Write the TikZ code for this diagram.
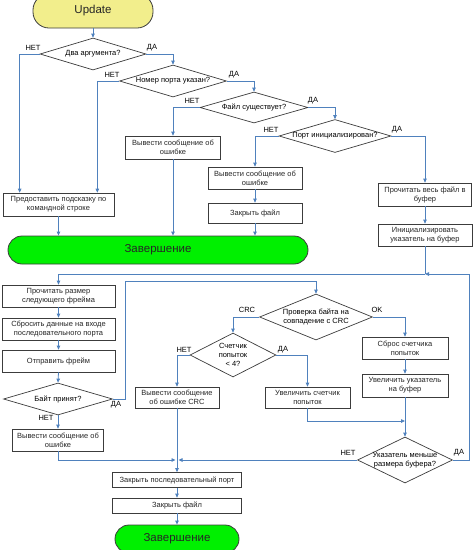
\documentclass[tikz,border=0pt]{standalone}
\usepackage{fontspec}
\setmainfont{Liberation Sans}
\usetikzlibrary{shapes.geometric,arrows.meta}
\definecolor{arrblue}{RGB}{79,129,189}
\definecolor{bord}{RGB}{60,60,60}
\definecolor{updfill}{RGB}{242,238,140}
\definecolor{endfill}{RGB}{0,240,0}
\begin{document}
\begin{tikzpicture}[x=1pt,y=-1pt,
  every node/.style={font=\fontsize{7.5}{9}\selectfont, text=black!85},
  sz/.style 2 args={minimum width=#1pt, minimum height=#2pt},
  box/.style={draw=bord, fill=white, line width=0.7pt, inner sep=1pt, align=center},
  dia/.style={diamond, draw=bord, fill=white, line width=0.7pt, inner sep=0pt},
  term/.style={draw=bord, line width=0.8pt, font=\fontsize{11.5}{13}\selectfont},
  conn/.style={draw=arrblue, line width=0.8pt},
  flow/.style={conn, -{Triangle[length=4pt,width=3.5pt]}},
  lbl/.style={inner sep=0pt, text=black}
]
\useasboundingbox (0,0) rectangle (474,550);
\clip (0,0) rectangle (474,550);

% terminals
\node[term, fill=updfill, rounded corners=16pt, sz={120}{34}] (upd) at (93,11) {\raisebox{-2pt}{Update}};
\node[term, fill=endfill, rounded corners=14pt, sz={300}{28}] (end1) at (158,250) {Завершение};
\node[term, fill=endfill, rounded corners=14pt, sz={124}{28}] (end2) at (177,539) {Завершение};

% decisions
\node[dia, sz={106}{32}, label={[lbl]center:Два аргумента?}] (d1) at (93,54) {};
\node[dia, sz={107}{32}, label={[lbl]center:Номер порта указан?}] (d2) at (173,81) {};
\node[dia, sz={108}{31}, label={[lbl]center:Файл существует?}] (d3) at (254,107.5) {};
\node[dia, sz={112}{33}, label={[lbl]center:Порт инициализирован?}] (d4) at (335,136) {};
\node[dia, sz={109}{32}, label={[lbl]center:Байт принят?}] (dJ) at (58,399) {};
\node[dia, sz={113}{46}, label={[lbl,align=center]center:{Проверка байта на\\совпадение с CRC}}] (dK) at (316,317) {};
\node[dia, sz={86}{44}, label={[lbl,align=center]center:{Счетчик\\попыток\\< 4?}}] (dL) at (233,355) {};
\node[dia, sz={95}{46}, label={[lbl,align=center]center:{Указатель меньше\\размера буфера?}}] (dO) at (405,460) {};

% processes
\node[box, sz={95}{23}] (bA) at (173,147.5) {Вывести сообщение об\\ошибке};
\node[box, sz={111}{23}] (bB) at (58.5,204.5) {Предоставить подсказку по\\командной строке};
\node[box, sz={94}{22}] (bC) at (255,178) {Вывести сообщение об\\ошибке};
\node[box, sz={94}{20}] (bD) at (255,213) {Закрыть файл};
\node[box, sz={93}{23}] (bE) at (425,194.5) {Прочитать весь файл в\\буфер};
\node[box, sz={94}{22}] (bF) at (425,235) {Инициализировать\\указатель на буфер};
\node[box, sz={113}{22}] (bG) at (58.5,296) {Прочитать размер\\следующего фрейма};
\node[box, sz={113}{22}] (bH) at (58.5,329) {Сбросить данные на входе\\последовательного порта};
\node[box, sz={113}{22}] (bI) at (58.5,361) {Отправить фрейм};
\node[box, sz={91}{22}] (bR) at (58,440) {Вывести сообщение об\\ошибке};
\node[box, sz={86}{22}] (bM) at (405,348) {Сброс счетчика\\попыток};
\node[box, sz={86}{23}] (bN) at (405,385.5) {Увеличить указатель\\на буфер};
\node[box, sz={84}{21}] (bP) at (177,397.5) {Вывести сообщение\\об ошибке CRC};
\node[box, sz={85}{21}] (bQ) at (307.5,397.5) {Увеличить счетчик\\попыток};
\node[box, sz={129}{15}] (bS) at (177,480) {Закрыть последовательный порт};
\node[box, sz={129}{15}] (bT) at (177,505.5) {Закрыть файл};

% branch labels
\node[lbl] (l1n) at (33,48) {НЕТ};
\node[lbl] (l1y) at (152,48) {ДА};
\node[lbl] (l2n) at (112,75) {НЕТ};
\node[lbl] (l2y) at (234,75) {ДА};
\node[lbl] (l3n) at (192,101) {НЕТ};
\node[lbl] (l3y) at (313,101) {ДА};
\node[lbl] (l4n) at (271,130) {НЕТ};
\node[lbl] (l4y) at (397,130) {ДА};
\node[lbl] (lJy) at (116,405) {ДА};
\node[lbl] (lJn) at (46,418) {НЕТ};
\node[lbl] (lKc) at (247,310) {CRC};
\node[lbl] (lKo) at (377,310) {OK};
\node[lbl] (lLn) at (184,350) {НЕТ};
\node[lbl] (lLy) at (283,350) {ДА};
\node[lbl] (lOn) at (348,453) {НЕТ};
\node[lbl] (lOy) at (459,453) {ДА};

% helper points
\coordinate (j1) at (425,274);
\coordinate (rr) at (469,274);
\coordinate (c1) at (125,281);
\coordinate (j2) at (177,460);
\coordinate (j3) at (405,421);

% connectors
\draw[flow] (upd.south) -- (d1.north);
\draw[flow] (d1.west) -| ([xshift=17pt]bB.north west);
\draw[flow] (d2.west) -| ([xshift=-17pt]bB.north east);
\draw[flow] (d1.east) -| (d2.north);
\draw[flow] (d2.east) -| (d3.north);
\draw[flow] (d3.west) -| (bA.north);
\draw[flow] (d3.east) -| (d4.north);
\draw[flow] (d4.west) -| (bC.north);
\draw[flow] (d4.east) -| (bE.north);
\draw[flow] (bA.south) -- (bA.south |- end1.north);
\draw[flow] (bB.south) -- (bB.south |- end1.north);
\draw[flow] (bC.south) -- (bD.north);
\draw[flow] (bD.south) -- (bD.south |- end1.north);
\draw[flow] (bE.south) -- (bF.north);
\draw[conn] (bF.south) -- (j1);
\draw[flow] (dO.east) -| (rr) -- (j1);
\draw[flow] (j1) -| (bG.north);
\draw[flow] (bG.south) -- (bH.north);
\draw[flow] (bH.south) -- (bI.north);
\draw[flow] (bI.south) -- (dJ.north);
\draw[flow] (dJ.east) -| (c1) -| (dK.north);
\draw[flow] (dJ.south) -- (bR.north);
\draw[flow, shorten >=1.5pt] (bR.south) |- (j2);
\draw[flow, shorten >=1.5pt] (dO.west) -- (j2);
\draw[flow] (bP.south) -- (bS.north);
\draw[flow] (dK.west) -| (dL.north);
\draw[flow] (dK.east) -| (bM.north);
\draw[flow] (bM.south) -- (bN.north);
\draw[flow] (bN.south) -- (dO.north);
\draw[flow] (dL.west) -| (bP.north);
\draw[flow] (dL.east) -| (bQ.north);
\draw[flow] (bQ.south) |- (j3);
\draw[flow] (bS.south) -- (bT.north);
\draw[flow] (bT.south) -- (end2.north);
\end{tikzpicture}
\end{document}
